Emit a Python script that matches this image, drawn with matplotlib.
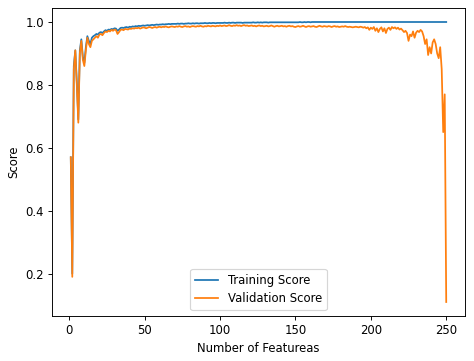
import matplotlib
matplotlib.use("Agg")
import matplotlib.pyplot as plt
import numpy as np

train_score = [
    0.57, 0.20, 0.86, 0.91, 0.81, 0.69, 0.91, 0.945, 0.89, 0.87,
    0.92, 0.955, 0.94, 0.93, 0.95, 0.955, 0.958, 0.962, 0.960, 0.966,
    0.968, 0.965, 0.970, 0.974, 0.972, 0.976, 0.975, 0.978, 0.977, 0.980,
    0.979, 0.972, 0.976, 0.981, 0.982, 0.981, 0.983, 0.984, 0.982, 0.985,
    0.984, 0.986, 0.985, 0.987, 0.986, 0.988, 0.987, 0.988, 0.989, 0.988,
    0.989, 0.990, 0.989, 0.990, 0.991, 0.990, 0.991, 0.992, 0.991, 0.992,
    0.992, 0.993, 0.992, 0.993, 0.993, 0.994, 0.993, 0.994, 0.994, 0.994,
    0.994, 0.995, 0.994, 0.995, 0.995, 0.994, 0.995, 0.995, 0.996, 0.995,
    0.995, 0.996, 0.995, 0.996, 0.996, 0.995, 0.996, 0.996, 0.996, 0.997,
    0.996, 0.996, 0.997, 0.996, 0.997, 0.997, 0.996, 0.997, 0.997, 0.997,
    0.997, 0.997, 0.998, 0.997, 0.997, 0.998, 0.997, 0.998, 0.998, 0.997,
    0.998, 0.998, 0.998, 0.998, 0.997, 0.998, 0.998, 0.998, 0.998, 0.998,
    0.998, 0.999, 0.998, 0.998, 0.999, 0.998, 0.999, 0.998, 0.999, 0.999,
    0.999, 0.998, 0.999, 0.999, 0.999, 0.999, 0.999, 0.999, 0.999, 0.999,
    0.999, 0.999, 0.999, 0.999, 0.999, 0.999, 0.999, 0.999, 0.999, 0.999,
    0.999, 0.999, 1.000, 0.999, 0.999, 1.000, 0.999, 1.000, 1.000, 0.999,
    1.000, 1.000, 1.000, 1.000, 1.000, 1.000, 1.000, 1.000, 1.000, 1.000,
    1.000, 1.000, 1.000, 1.000, 1.000, 1.000, 1.000, 1.000, 1.000, 1.000,
    1.000, 1.000, 1.000, 1.000, 1.000, 1.000, 1.000, 1.000, 1.000, 1.000,
    1.000, 1.000, 1.000, 1.000, 1.000, 1.000, 1.000, 1.000, 1.000, 1.000,
    1.000, 1.000, 1.000, 1.000, 1.000, 1.000, 1.000, 1.000, 1.000, 1.000,
    1.000, 1.000, 1.000, 1.000, 1.000, 1.000, 1.000, 1.000, 1.000, 1.000,
    1.000, 1.000, 1.000, 1.000, 1.000, 1.000, 1.000, 1.000, 1.000, 1.000,
    1.000, 1.000, 1.000, 1.000, 1.000, 1.000, 1.000, 1.000, 1.000, 1.000,
    1.000, 1.000, 1.000, 1.000, 1.000, 1.000, 1.000, 1.000, 1.000, 1.000,
]

val_score = [
    0.57, 0.19, 0.85, 0.91, 0.80, 0.68, 0.90, 0.94, 0.88, 0.86,
    0.91, 0.95, 0.93, 0.92, 0.94, 0.945, 0.950, 0.955, 0.950, 0.960,
    0.962, 0.958, 0.965, 0.970, 0.968, 0.972, 0.970, 0.975, 0.972, 0.976,
    0.974, 0.962, 0.968, 0.975, 0.976, 0.974, 0.978, 0.977, 0.976, 0.979,
    0.978, 0.980, 0.979, 0.981, 0.980, 0.982, 0.979, 0.981, 0.983, 0.982,
    0.980, 0.982, 0.984, 0.983, 0.981, 0.983, 0.984, 0.982, 0.984, 0.985,
    0.983, 0.985, 0.984, 0.986, 0.984, 0.983, 0.985, 0.986, 0.985, 0.984,
    0.986, 0.985, 0.987, 0.985, 0.984, 0.986, 0.987, 0.985, 0.986, 0.984,
    0.986, 0.987, 0.986, 0.985, 0.987, 0.986, 0.988, 0.986, 0.985, 0.987,
    0.986, 0.988, 0.987, 0.986, 0.988, 0.987, 0.986, 0.988, 0.987, 0.989,
    0.987, 0.988, 0.989, 0.987, 0.988, 0.990, 0.988, 0.987, 0.989, 0.988,
    0.990, 0.988, 0.989, 0.987, 0.989, 0.990, 0.988, 0.989, 0.987, 0.988,
    0.989, 0.987, 0.988, 0.986, 0.988, 0.989, 0.987, 0.988, 0.986, 0.987,
    0.988, 0.986, 0.987, 0.989, 0.987, 0.985, 0.987, 0.988, 0.986, 0.987,
    0.988, 0.986, 0.987, 0.985, 0.987, 0.988, 0.986, 0.987, 0.985, 0.984,
    0.986, 0.987, 0.985, 0.986, 0.988, 0.986, 0.984, 0.986, 0.987, 0.985,
    0.986, 0.987, 0.985, 0.984, 0.986, 0.988, 0.986, 0.985, 0.987, 0.986,
    0.985, 0.987, 0.986, 0.984, 0.986, 0.987, 0.985, 0.986, 0.984, 0.985,
    0.986, 0.985, 0.987, 0.985, 0.984, 0.985, 0.984, 0.983, 0.984, 0.985,
    0.984, 0.983, 0.985, 0.984, 0.982, 0.984, 0.980, 0.983, 0.975, 0.982,
    0.978, 0.984, 0.972, 0.980, 0.968, 0.978, 0.983, 0.970, 0.980, 0.965,
    0.978, 0.982, 0.975, 0.984, 0.980, 0.983, 0.978, 0.982, 0.976, 0.979,
    0.974, 0.968, 0.972, 0.965, 0.940, 0.960, 0.955, 0.970, 0.950, 0.966,
    0.972, 0.968, 0.975, 0.970, 0.955, 0.930, 0.945, 0.895, 0.920, 0.900,
    0.935, 0.945, 0.930, 0.900, 0.885, 0.920, 0.850, 0.650, 0.770, 0.110,
]

n_features = np.arange(1, len(val_score) + 1)

DPI = 84
fig = plt.figure(figsize=(474 / DPI, 361 / DPI), dpi=DPI)
ax = fig.add_axes([52 / 474, 1 - 316 / 361, 413 / 474, 308 / 361])
ax.plot(n_features, train_score, label="Training Score", color="#1f77b4")
ax.plot(n_features, val_score, label="Validation Score", color="#ff7f0e")
ax.set_xlabel("Number of Featureas")
ax.set_ylabel("Score")
ax.legend(loc="lower center")
fig.savefig("out.png", dpi=DPI)
